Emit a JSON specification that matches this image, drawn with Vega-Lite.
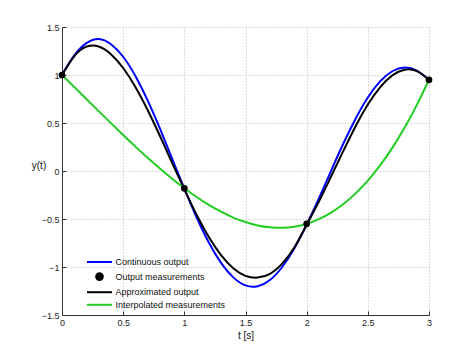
{
  "$schema": "https://vega.github.io/schema/vega-lite/v6.json",
  "width": 367,
  "height": 288,
  "autosize": "none",
  "padding": {"left": 62, "top": 27, "right": 45, "bottom": 40},
  "background": "white",
  "config": {
    "view": {"stroke": null},
    "font": "Liberation Sans",
    "axis": {
      "labelFont": "Liberation Sans",
      "labelFontSize": 9,
      "labelColor": "#222",
      "labelOverlap": false,
      "labelBound": false,
      "labelFlush": false,
      "titleFont": "Liberation Sans",
      "titleFontSize": 10,
      "titleFontWeight": "normal",
      "titleColor": "#111",
      "domainColor": "#333",
      "tickColor": "#333",
      "tickSize": -4,
      "gridColor": "#b8b8b8",
      "gridDash": [1, 2],
      "gridWidth": 1
    },
    "legend": {
      "labelFont": "Liberation Sans",
      "labelFontSize": 9,
      "labelColor": "#111"
    }
  },
  "data": {
    "values": [
      {"t": 0.0, "y": 1.0, "series": "Continuous output"},
      {"t": 0.1, "y": 1.204, "series": "Continuous output"},
      {"t": 0.2, "y": 1.332, "series": "Continuous output"},
      {"t": 0.3, "y": 1.375, "series": "Continuous output"},
      {"t": 0.4, "y": 1.321, "series": "Continuous output"},
      {"t": 0.5, "y": 1.19, "series": "Continuous output"},
      {"t": 0.6, "y": 0.99, "series": "Continuous output"},
      {"t": 0.7, "y": 0.736, "series": "Continuous output"},
      {"t": 0.8, "y": 0.443, "series": "Continuous output"},
      {"t": 0.9, "y": 0.13, "series": "Continuous output"},
      {"t": 1.0, "y": -0.184, "series": "Continuous output"},
      {"t": 1.1, "y": -0.482, "series": "Continuous output"},
      {"t": 1.2, "y": -0.745, "series": "Continuous output"},
      {"t": 1.3, "y": -0.957, "series": "Continuous output"},
      {"t": 1.4, "y": -1.108, "series": "Continuous output"},
      {"t": 1.5, "y": -1.192, "series": "Continuous output"},
      {"t": 1.6, "y": -1.201, "series": "Continuous output"},
      {"t": 1.7, "y": -1.136, "series": "Continuous output"},
      {"t": 1.8, "y": -1.0, "series": "Continuous output"},
      {"t": 1.9, "y": -0.804, "series": "Continuous output"},
      {"t": 2.0, "y": -0.558, "series": "Continuous output"},
      {"t": 2.1, "y": -0.285, "series": "Continuous output"},
      {"t": 2.2, "y": 0.003, "series": "Continuous output"},
      {"t": 2.3, "y": 0.286, "series": "Continuous output"},
      {"t": 2.4, "y": 0.545, "series": "Continuous output"},
      {"t": 2.5, "y": 0.766, "series": "Continuous output"},
      {"t": 2.6, "y": 0.933, "series": "Continuous output"},
      {"t": 2.7, "y": 1.039, "series": "Continuous output"},
      {"t": 2.8, "y": 1.077, "series": "Continuous output"},
      {"t": 2.9, "y": 1.045, "series": "Continuous output"},
      {"t": 3.0, "y": 0.95, "series": "Continuous output"},

      {"t": 0.0, "y": 1.0, "series": "Approximated output"},
      {"t": 0.1, "y": 1.195, "series": "Approximated output"},
      {"t": 0.2, "y": 1.295, "series": "Approximated output"},
      {"t": 0.3, "y": 1.297, "series": "Approximated output"},
      {"t": 0.4, "y": 1.217, "series": "Approximated output"},
      {"t": 0.5, "y": 1.073, "series": "Approximated output"},
      {"t": 0.6, "y": 0.876, "series": "Approximated output"},
      {"t": 0.7, "y": 0.636, "series": "Approximated output"},
      {"t": 0.8, "y": 0.367, "series": "Approximated output"},
      {"t": 0.9, "y": 0.085, "series": "Approximated output"},
      {"t": 1.0, "y": -0.19, "series": "Approximated output"},
      {"t": 1.1, "y": -0.456, "series": "Approximated output"},
      {"t": 1.2, "y": -0.688, "series": "Approximated output"},
      {"t": 1.3, "y": -0.876, "series": "Approximated output"},
      {"t": 1.4, "y": -1.012, "series": "Approximated output"},
      {"t": 1.5, "y": -1.092, "series": "Approximated output"},
      {"t": 1.6, "y": -1.11, "series": "Approximated output"},
      {"t": 1.7, "y": -1.071, "series": "Approximated output"},
      {"t": 1.8, "y": -0.965, "series": "Approximated output"},
      {"t": 1.9, "y": -0.795, "series": "Approximated output"},
      {"t": 2.0, "y": -0.56, "series": "Approximated output"},
      {"t": 2.1, "y": -0.318, "series": "Approximated output"},
      {"t": 2.2, "y": -0.055, "series": "Approximated output"},
      {"t": 2.3, "y": 0.21, "series": "Approximated output"},
      {"t": 2.4, "y": 0.467, "series": "Approximated output"},
      {"t": 2.5, "y": 0.692, "series": "Approximated output"},
      {"t": 2.6, "y": 0.872, "series": "Approximated output"},
      {"t": 2.7, "y": 0.996, "series": "Approximated output"},
      {"t": 2.8, "y": 1.055, "series": "Approximated output"},
      {"t": 2.9, "y": 1.04, "series": "Approximated output"},
      {"t": 3.0, "y": 0.95, "series": "Approximated output"},

      {"t": 0.0, "y": 1.0, "series": "Interpolated measurements"},
      {"t": 0.1, "y": 0.876, "series": "Interpolated measurements"},
      {"t": 0.2, "y": 0.75, "series": "Interpolated measurements"},
      {"t": 0.3, "y": 0.624, "series": "Interpolated measurements"},
      {"t": 0.4, "y": 0.499, "series": "Interpolated measurements"},
      {"t": 0.5, "y": 0.375, "series": "Interpolated measurements"},
      {"t": 0.6, "y": 0.254, "series": "Interpolated measurements"},
      {"t": 0.7, "y": 0.137, "series": "Interpolated measurements"},
      {"t": 0.8, "y": 0.025, "series": "Interpolated measurements"},
      {"t": 0.9, "y": -0.081, "series": "Interpolated measurements"},
      {"t": 1.0, "y": -0.18, "series": "Interpolated measurements"},
      {"t": 1.1, "y": -0.271, "series": "Interpolated measurements"},
      {"t": 1.2, "y": -0.353, "series": "Interpolated measurements"},
      {"t": 1.3, "y": -0.424, "series": "Interpolated measurements"},
      {"t": 1.4, "y": -0.485, "series": "Interpolated measurements"},
      {"t": 1.5, "y": -0.532, "series": "Interpolated measurements"},
      {"t": 1.6, "y": -0.567, "series": "Interpolated measurements"},
      {"t": 1.7, "y": -0.587, "series": "Interpolated measurements"},
      {"t": 1.8, "y": -0.592, "series": "Interpolated measurements"},
      {"t": 1.9, "y": -0.58, "series": "Interpolated measurements"},
      {"t": 2.0, "y": -0.55, "series": "Interpolated measurements"},
      {"t": 2.1, "y": -0.501, "series": "Interpolated measurements"},
      {"t": 2.2, "y": -0.433, "series": "Interpolated measurements"},
      {"t": 2.3, "y": -0.344, "series": "Interpolated measurements"},
      {"t": 2.4, "y": -0.233, "series": "Interpolated measurements"},
      {"t": 2.5, "y": -0.1, "series": "Interpolated measurements"},
      {"t": 2.6, "y": 0.058, "series": "Interpolated measurements"},
      {"t": 2.7, "y": 0.241, "series": "Interpolated measurements"},
      {"t": 2.8, "y": 0.45, "series": "Interpolated measurements"},
      {"t": 2.9, "y": 0.686, "series": "Interpolated measurements"},
      {"t": 3.0, "y": 0.95, "series": "Interpolated measurements"},

      {"t": 0.0, "y": 1.0, "series": "Output measurements"},
      {"t": 1.0, "y": -0.18, "series": "Output measurements"},
      {"t": 2.0, "y": -0.55, "series": "Output measurements"},
      {"t": 3.0, "y": 0.95, "series": "Output measurements"}
    ]
  },
  "encoding": {
    "x": {
      "field": "t",
      "type": "quantitative",
      "scale": {"domain": [0, 3], "nice": false},
      "axis": {
        "title": "t [s]",
        "values": [0, 0.5, 1, 1.5, 2, 2.5, 3],
        "format": ".1~f",
        "labelPadding": 7,
        "titleY": 20,
        "titleBaseline": "middle",
        "titlePadding": 0
      }
    },
    "y": {
      "field": "y",
      "type": "quantitative",
      "scale": {"domain": [-1.5, 1.5], "nice": false},
      "axis": {
        "title": "y(t)",
        "values": [-1.5, -1, -0.5, 0, 0.5, 1, 1.5],
        "format": ".1~f",
        "labelPadding": 7,
        "titleAngle": 0,
        "titleX": -23.5,
        "titleY": 138.5,
        "titleAlign": "center",
        "titleBaseline": "middle"
      }
    },
    "color": {
      "field": "series",
      "type": "nominal",
      "scale": {
        "domain": ["Continuous output", "Output measurements", "Approximated output", "Interpolated measurements"],
        "range": ["#0000ff", "#000000", "#000000", "#22cc22"]
      },
      "legend": {
        "title": null,
        "orient": "none",
        "legendX": 31.5,
        "legendY": 229,
        "padding": 0,
        "symbolType": "M-2.5,0H2.5",
        "symbolSize": 100,
        "symbolStrokeWidth": 2,
        "labelOffset": 10,
        "rowPadding": 1.6,
        "encode": {
          "symbols": {
            "update": {
              "shape": {"signal": "datum.value === 'Output measurements' ? 'circle' : 'M-2.5,0H2.5'"},
              "fill": {"signal": "datum.value === 'Output measurements' ? '#000' : 'transparent'"},
              "size": {"signal": "datum.value === 'Output measurements' ? 45 : 100"}
            }
          }
        }
      }
    }
  },
  "layer": [
    {
      "transform": [{"filter": "datum.series !== 'Output measurements'"}],
      "mark": {"type": "line", "strokeWidth": 2, "interpolate": "natural"}
    },
    {
      "transform": [{"filter": "datum.series === 'Output measurements'"}],
      "mark": {"type": "point", "filled": true, "size": 45, "opacity": 1}
    }
  ]
}
